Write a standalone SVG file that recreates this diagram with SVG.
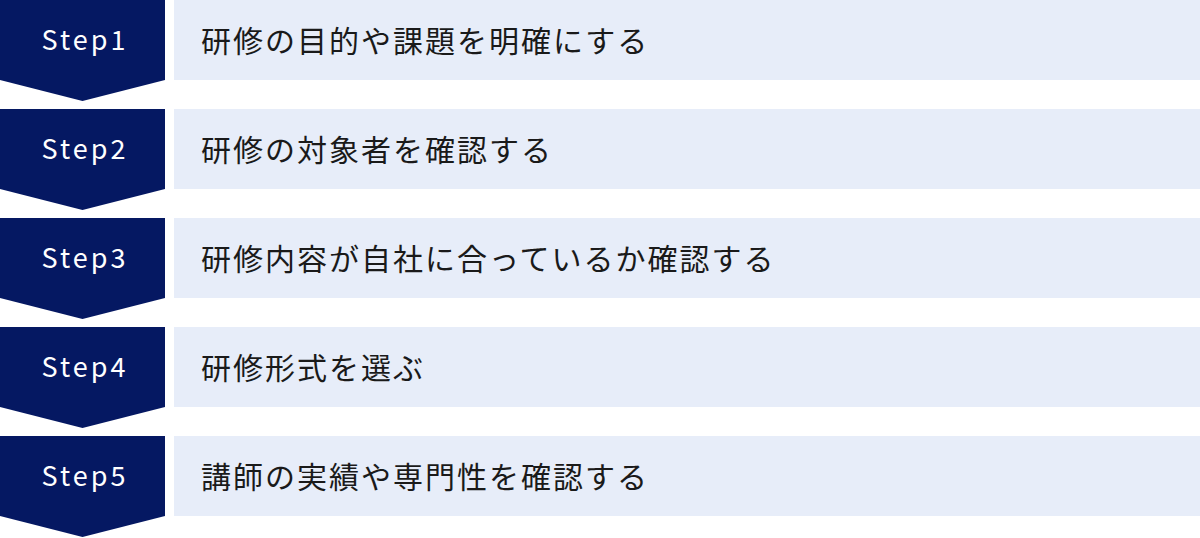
<svg xmlns="http://www.w3.org/2000/svg" width="1200" height="538" viewBox="0 0 1200 538">
<style>
.chev{fill:#051862}
.box{fill:#E7EDF9}
.step{font-family:"Noto Sans CJK JP","Noto Sans",sans-serif;font-size:27px;fill:#ffffff;letter-spacing:3px;text-anchor:middle}
.lbl{font-family:"Noto Sans CJK JP","Noto Sans",sans-serif;font-size:30px;fill:#1a1a1a;letter-spacing:2px}
</style>
<rect width="1200" height="538" fill="#ffffff"/>
<g id="connectors"></g>
<g id="step1">
<path class="chev" d="M0 0H165V80L82.5 101L0 80Z"/>
<rect class="box" x="174" y="0" width="1026" height="80"/>
<text class="step" x="85" y="50">Step1</text>
<text class="lbl" x="201" y="51.5">研修の目的や課題を明確にする</text>
</g>
<g id="step2">
<path class="chev" d="M0 109H165V189L82.5 210L0 189Z"/>
<rect class="box" x="174" y="109" width="1026" height="80"/>
<text class="step" x="85" y="159">Step2</text>
<text class="lbl" x="201" y="160.5">研修の対象者を確認する</text>
</g>
<g id="step3">
<path class="chev" d="M0 218H165V298L82.5 319L0 298Z"/>
<rect class="box" x="174" y="218" width="1026" height="80"/>
<text class="step" x="85" y="268">Step3</text>
<text class="lbl" x="201" y="269.5">研修内容が自社に合っているか確認する</text>
</g>
<g id="step4">
<path class="chev" d="M0 327H165V407L82.5 428L0 407Z"/>
<rect class="box" x="174" y="327" width="1026" height="80"/>
<text class="step" x="85" y="377">Step4</text>
<text class="lbl" x="201" y="378.5">研修形式を選ぶ</text>
</g>
<g id="step5">
<path class="chev" d="M0 436H165V516L82.5 537L0 516Z"/>
<rect class="box" x="174" y="436" width="1026" height="80"/>
<text class="step" x="85" y="486">Step5</text>
<text class="lbl" x="201" y="487.5">講師の実績や専門性を確認する</text>
</g>
</svg>
